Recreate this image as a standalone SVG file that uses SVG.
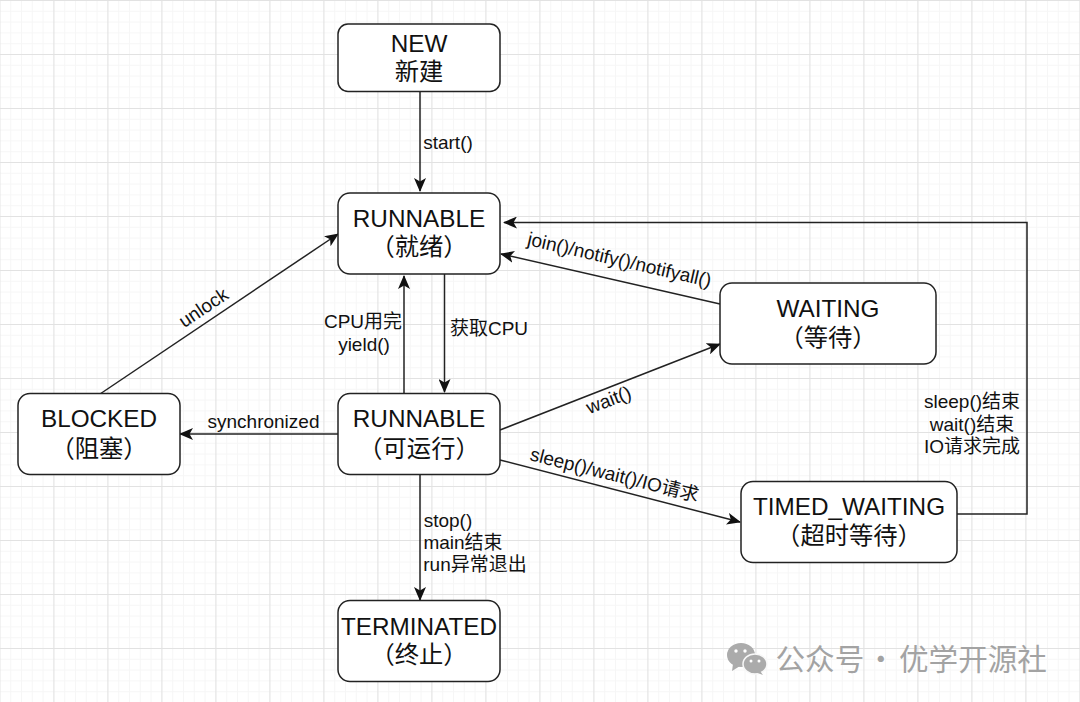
<svg xmlns="http://www.w3.org/2000/svg" width="1080" height="702" viewBox="0 0 1080 702">
<defs>
<pattern id="minor" width="10.8" height="10.8" x="-0.6" y="0" patternUnits="userSpaceOnUse"><path d="M0.5 0V10.8M0 0.5H10.8" fill="none" stroke="#f6f6f6" stroke-width="1"/></pattern>
<pattern id="major" width="54" height="54" x="-0.6" y="0" patternUnits="userSpaceOnUse"><path d="M0.5 0V54M0 0.5H54" fill="none" stroke="#e2e2e2" stroke-width="1"/></pattern>
<marker id="arrow" viewBox="0 0 14 12" refX="13" refY="6" markerWidth="14" markerHeight="12" markerUnits="userSpaceOnUse" orient="auto"><path d="M0 0L14 6L0 12L3.500 6Z" fill="#111"/></marker>
</defs>
<style>
.box{fill:#fff;stroke:#222;stroke-width:1.5}
.t{font-family:"Liberation Sans","Noto Sans CJK SC",sans-serif;font-size:24.3px;fill:#111;text-anchor:middle}
.l{font-family:"Liberation Sans","Noto Sans CJK SC",sans-serif;font-size:19px;fill:#111;text-anchor:middle}
.c{fill:none;stroke:#222;stroke-width:1.5;marker-end:url(#arrow)}
</style>
<rect width="1080" height="702" fill="#fff"/>
<rect width="1080" height="702" fill="url(#minor)"/>
<rect width="1080" height="702" fill="url(#major)"/>
<g id="connectors">
<path class="c" d="M420 91V191"/>
<path class="c" d="M100 394L338 234"/>
<path class="c" d="M404 393V276"/>
<path class="c" d="M444.500 274V392"/>
<path class="c" d="M500 430L720 344"/>
<path class="c" d="M500 460L740 522"/>
<path class="c" d="M338 434H180"/>
<path class="c" d="M420 475V600"/>
<path class="c" d="M957 514H1027V222.500H504"/>
<path class="c" d="M720 304L501 254"/>
<text class="l" x="448" y="149">start()</text>
<text class="l" transform="translate(207 313) rotate(-34)">unlock</text>
<text class="l" x="363" y="328">CPU用完</text>
<text class="l" x="364" y="351">yield()</text>
<text class="l" x="489" y="335">获取CPU</text>
<text class="l" transform="translate(618 266) rotate(13)">join()/notify()/notifyall()</text>
<text class="l" transform="translate(611 406) rotate(-21)">wait()</text>
<text class="l" transform="translate(613 481) rotate(14)">sleep()/wait()/IO请求</text>
<text class="l" x="263.500" y="428">synchronized</text>
<text class="l" x="448" y="527">stop()</text>
<text class="l" x="463" y="549">main结束</text>
<text class="l" x="475" y="571">run异常退出</text>
<text class="l" x="972" y="408">sleep()结束</text>
<text class="l" x="972" y="431">wait()结束</text>
<text class="l" x="972" y="453">IO请求完成</text>
</g>
<g id="new"><rect class="box" x="338" y="24" width="162" height="67.500" rx="10"/><text class="t" x="419" y="52">NEW</text><text class="t" x="419" y="80">新建</text></g>
<g id="runnable-ready"><rect class="box" x="338" y="193" width="162" height="81" rx="12"/><text class="t" x="419" y="227">RUNNABLE</text><text class="t" x="419" y="255">（就绪）</text></g>
<g id="blocked"><rect class="box" x="18" y="393.500" width="162" height="81" rx="12"/><text class="t" x="99" y="427">BLOCKED</text><text class="t" x="99" y="457">（阻塞）</text></g>
<g id="runnable"><rect class="box" x="338" y="393.500" width="162" height="81" rx="12"/><text class="t" x="419" y="427">RUNNABLE</text><text class="t" x="419" y="457">（可运行）</text></g>
<g id="waiting"><rect class="box" x="720" y="283" width="216" height="81" rx="12"/><text class="t" x="828" y="317">WAITING</text><text class="t" x="828" y="346">（等待）</text></g>
<g id="timed-waiting"><rect class="box" x="741" y="481.500" width="216" height="81" rx="12"/><text class="t" x="849" y="515">TIMED_WAITING</text><text class="t" x="849" y="544">（超时等待）</text></g>
<g id="terminated"><rect class="box" x="338" y="600.500" width="162" height="81" rx="12"/><text class="t" x="419" y="635">TERMINATED</text><text class="t" x="419" y="663">（终止）</text></g>
<g id="watermark">
<ellipse cx="741" cy="655" rx="14" ry="12" fill="#ababab"/><path d="M733 664l-1 7 8-5z" fill="#ababab"/>
<ellipse cx="755" cy="664" rx="12" ry="10" fill="#ababab" stroke="#f8f8f8" stroke-width="1.500"/><path d="M760 671l3 4-8-3z" fill="#ababab"/>
<circle cx="736" cy="651" r="1.700" fill="#fff"/><circle cx="745" cy="651" r="1.700" fill="#fff"/><circle cx="751" cy="661" r="1.500" fill="#fff"/><circle cx="759" cy="661" r="1.500" fill="#fff"/>
<text y="670" font-family="'Noto Sans CJK SC',sans-serif" font-size="29.6" fill="#a3a3a3"><tspan x="775.500">公众号</tspan><tspan x="866">·</tspan><tspan x="899">优学开源社</tspan></text>
</g>
</svg>
